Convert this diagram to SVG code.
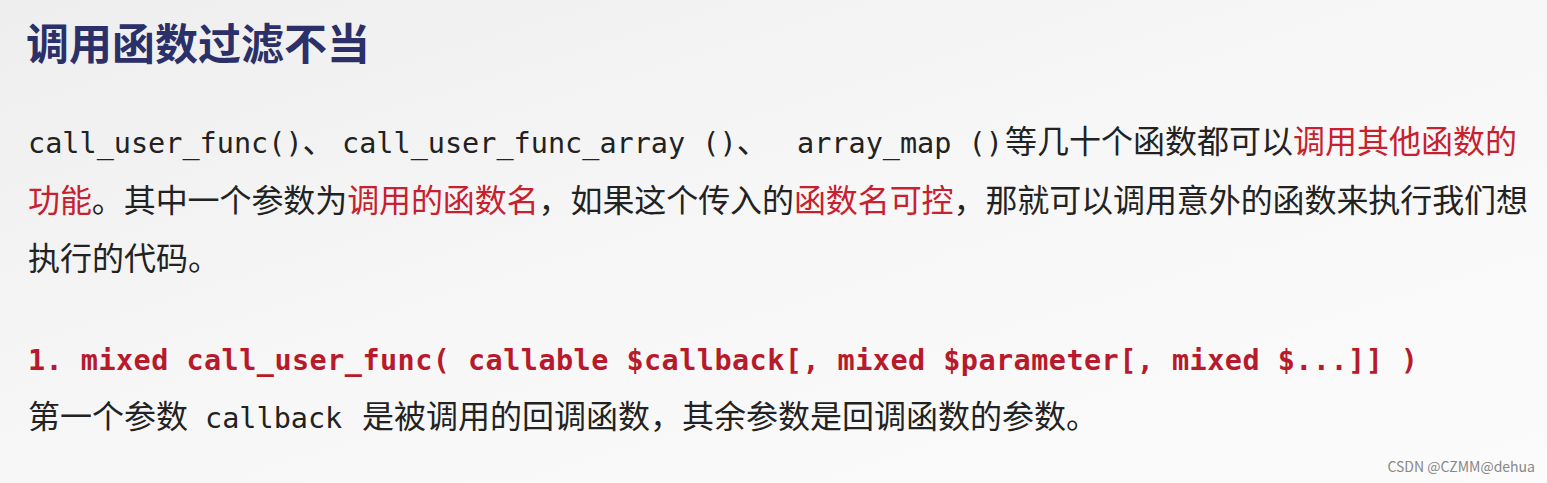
<svg xmlns="http://www.w3.org/2000/svg" width="1547" height="483" viewBox="0 0 1547 483">
<defs>
<linearGradient id="bg" x1="0" y1="0" x2="1" y2="1"><stop offset="0" stop-color="#eeeeee"/><stop offset="0.5" stop-color="#f7f7f7"/><stop offset="1" stop-color="#fbfbfb"/></linearGradient>
</defs>
<style>
.t{font-family:"Noto Sans CJK SC","Noto Sans",sans-serif;font-size:43px;font-weight:700;fill:#2c3068}
.c{font-family:"Noto Sans CJK SC","Noto Sans",sans-serif;font-size:32px;fill:#222}
.m{font-family:"DejaVu Sans Mono","Liberation Mono",monospace;font-size:28.5px;fill:#222}
.r{fill:#c8202e}
.rm{font-family:"DejaVu Sans Mono","Liberation Mono",monospace;font-size:28.5px;font-weight:700;fill:#b81a2b}
.w{font-family:"Noto Sans CJK SC",sans-serif;font-size:14px;fill:#888}
</style>
<rect width="1547" height="483" fill="url(#bg)"/>
<g id="title"><text class="t" x="26" y="60">调用函数过滤不当</text></g>
<g id="body">
<text x="28" y="153"><tspan class="m">call_user_func()</tspan><tspan class="c">、</tspan><tspan class="m" x="342">call_user_func_array ()</tspan><tspan class="c">、</tspan><tspan class="m" x="797">array_map ()</tspan><tspan class="c" x="1005">等几十个函数都可以</tspan><tspan class="c r">调用其他函数的</tspan></text>
<text class="c" x="28" y="212" textLength="1500"><tspan class="r">功能</tspan>。其中一个参数为<tspan class="r">调用的函数名</tspan>，如果这个传入的<tspan class="r">函数名可控</tspan>，那就可以调用意外的函数来执行我们想</text>
<text class="c" x="28" y="270">执行的代码。</text>
<text class="rm" x="28" y="370" textLength="1390">1. mixed call_user_func( callable $callback[, mixed $parameter[, mixed $...]] )</text>
<text x="28" y="428"><tspan class="c">第一个参数</tspan><tspan class="m" x="205">callback</tspan><tspan class="c" x="362">是被调用的回调函数，其余参数是回调函数的参数。</tspan></text>
</g>
<g id="watermark"><text class="w" x="1535" y="472" text-anchor="end">CSDN @CZMM@dehua</text></g>
</svg>
